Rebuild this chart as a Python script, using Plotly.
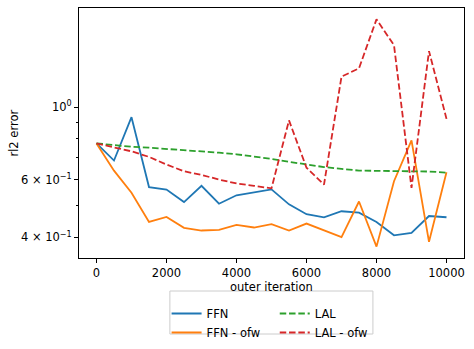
import numpy as np
import plotly.graph_objects as go

iterations = [0, 500, 1000, 1500, 2000, 2500, 3000, 3500, 4000, 4500, 5000,
              5500, 6000, 6500, 7000, 7500, 8000, 8500, 9000, 9500, 10000]
ffn = [0.775, 0.687, 0.932, 0.570, 0.560, 0.513, 0.575, 0.507, 0.538, 0.548, 0.561,
       0.505, 0.471, 0.461, 0.481, 0.476, 0.446, 0.406, 0.413, 0.465, 0.461]
ffn_ofw = [0.775, 0.640, 0.548, 0.446, 0.462, 0.428, 0.420, 0.422, 0.437, 0.429, 0.439,
           0.420, 0.441, 0.421, 0.401, 0.515, 0.375, 0.594, 0.792, 0.388, 0.633]
lal = [0.775, 0.764, 0.757, 0.752, 0.746, 0.740, 0.733, 0.726, 0.718, 0.708, 0.695,
       0.681, 0.668, 0.656, 0.648, 0.640, 0.639, 0.638, 0.637, 0.636, 0.631]
lal_ofw = [0.775, 0.754, 0.733, 0.705, 0.668, 0.637, 0.621, 0.601, 0.585, 0.575, 0.565,
           0.911, 0.653, 0.580, 1.239, 1.314, 1.854, 1.546, 0.567, 1.483, 0.921]

major_ticks = [0.4, 0.6, 1.0]
major_labels = ["4 × 10<sup>−1</sup>", "6 × 10<sup>−1</sup>", "10<sup>0</sup>"]
minor_ticks = [0.5, 0.7, 0.8, 0.9]
x_ticks = [0, 2000, 4000, 6000, 8000, 10000]
x_title = "outer iteration"
y_title = "rl2 error"

FONT = "DejaVu Sans"
FS = 11.5

W, H = 474, 349
L, R, T, B = 79, 9.5, 8, 91

fig = go.Figure()
dash = "6.5px,2.8px"
fig.add_trace(go.Scatter(x=iterations, y=ffn, mode="lines", name="FFN",
                         line=dict(color="#1f77b4", width=1.8), legend="legend"))
fig.add_trace(go.Scatter(x=iterations, y=ffn_ofw, mode="lines", name="FFN - ofw",
                         line=dict(color="#ff7f0e", width=1.8), legend="legend"))
fig.add_trace(go.Scatter(x=iterations, y=lal, mode="lines", name="LAL",
                         line=dict(color="#2ca02c", width=1.8, dash=dash), legend="legend2"))
fig.add_trace(go.Scatter(x=iterations, y=lal_ofw, mode="lines", name="LAL - ofw",
                         line=dict(color="#d62728", width=1.8, dash=dash), legend="legend2"))

allv = np.log10(np.array(ffn + ffn_ofw + lal + lal_ofw))
lo, hi = allv.min(), allv.max()
pad = 0.05 * (hi - lo)
xpad = 0.05 * (max(iterations) - min(iterations))

pw = W - L - R
ph = H - T - B
def px2x(px):
    return (px - L) / pw
def py2y(py):
    return (H - B - py) / ph

fig.update_layout(
    width=W, height=H,
    margin=dict(l=L, r=R, t=T, b=B, pad=0, autoexpand=False),
    paper_bgcolor="white", plot_bgcolor="white",
    font=dict(family=FONT, size=FS, color="black"),
    xaxis=dict(range=[min(iterations) - xpad, max(iterations) + xpad],
               tickvals=x_ticks, ticktext=[str(v) for v in x_ticks],
               showgrid=False, zeroline=False, showline=True, mirror=True,
               linecolor="black", linewidth=1, ticks="outside", ticklen=4,
               tickwidth=1, tickcolor="black", automargin=False),
    yaxis=dict(type="log", range=[lo - pad, hi + pad],
               tickvals=major_ticks, ticktext=major_labels,
               showgrid=False, zeroline=False, showline=True, mirror=True,
               linecolor="black", linewidth=1, ticks="outside", ticklen=4,
               tickwidth=1, tickcolor="black", automargin=False,
               minor=dict(tickvals=minor_ticks, ticks="outside", ticklen=2.3,
                          tickwidth=0.8, tickcolor="black", showgrid=False)),
    annotations=[
        dict(text=x_title, xref="paper", yref="paper", x=0.5, y=py2y(286.5),
             xanchor="center", yanchor="middle", showarrow=False,
             font=dict(family=FONT, size=FS)),
        dict(text=y_title, xref="paper", yref="paper", x=px2x(13.5), y=0.5,
             xanchor="center", yanchor="middle", showarrow=False, textangle=-90,
             font=dict(family=FONT, size=FS)),
    ],
    legend=dict(x=px2x(166.7), y=py2y(299), xanchor="left", yanchor="top",
                bgcolor="rgba(0,0,0,0)", borderwidth=0, orientation="v",
                font=dict(family=FONT, size=FS), tracegroupgap=0),
    legend2=dict(x=px2x(275), y=py2y(299), xanchor="left", yanchor="top",
                 bgcolor="rgba(0,0,0,0)", borderwidth=0, orientation="v",
                 font=dict(family=FONT, size=FS), tracegroupgap=0),
    shapes=[dict(type="rect", xref="paper", yref="paper",
                 x0=px2x(170), x1=px2x(373.3), y0=py2y(334), y1=py2y(291),
                 line=dict(color="#cccccc", width=1), fillcolor="rgba(255,255,255,0.8)",
                 layer="below")],
)

fig.write_html("out.html")
